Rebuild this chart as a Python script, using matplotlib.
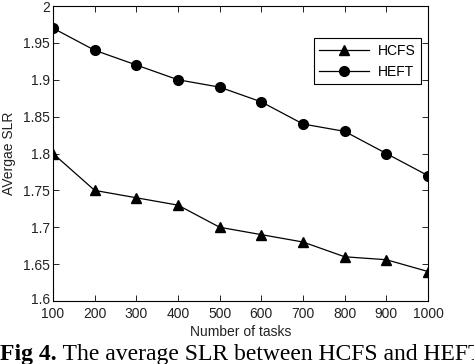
import numpy as np
import matplotlib.pyplot as plt
from matplotlib.transforms import ScaledTranslation

# datos
tareas = [100, 200, 300, 400, 500, 600, 700, 800, 900, 1000]
slr_hcfs = [1.80, 1.75, 1.74, 1.73, 1.70, 1.69, 1.68, 1.66, 1.656, 1.64]
slr_heft = [1.97, 1.94, 1.92, 1.90, 1.89, 1.87, 1.84, 1.83, 1.80, 1.77]
yticks = [1.6, 1.65, 1.7, 1.75, 1.8, 1.85, 1.9, 1.95, 2]
ytick_labels = ['1.6', '1.65', '1.7', '1.75', '1.8', '1.85', '1.9', '1.95', '2']

plt.rcParams['font.family'] = ['Liberation Sans', 'DejaVu Sans']

fig = plt.figure(figsize=(4.74, 3.64), dpi=100)
ax = fig.add_axes([0.1118, 0.173, 0.7912, 0.8105])

ax.plot(tareas, slr_hcfs, color='black', lw=0.9, marker='^', ms=7, label='HCFS')
ax.plot(tareas, slr_heft, color='black', lw=0.9, marker='o', ms=7, label='HEFT')

ax.set_xlim(100, 1000)
ax.set_ylim(1.6, 2)
ax.set_xticks(tareas)
ax.set_yticks(yticks)
ax.set_yticklabels(ytick_labels)
ax.tick_params(direction='in', top=True, right=True, labelsize=10, length=4, width=0.6,
               colors='black', labelcolor='#222222', pad=2)
ax.tick_params(axis='x', pad=4)
for s in ax.spines.values():
    s.set_linewidth(0.8)

# subir un poco la etiqueta 1.6 como en el original
lab = ax.get_yticklabels()[0]
lab.set_transform(lab.get_transform() + ScaledTranslation(0, 3 / 100, fig.dpi_scale_trans))

ax.set_xlabel('Number of tasks', fontsize=10, color='#222222', labelpad=3)
ax.set_ylabel('AVergae SLR', fontsize=10, color='#222222', labelpad=5)

leg = ax.legend(loc='upper right', bbox_to_anchor=(1.0, 0.915), fancybox=False,
                framealpha=1, edgecolor='black', fontsize=10, handlelength=3.6,
                borderpad=0.4, labelspacing=0.5, handletextpad=0.6)
leg.get_frame().set_linewidth(0.8)

# pie de figura (cortado a la derecha como en el original)
t_fig = fig.text(0.0, 0.012, 'Fig 4.', fontsize=17, fontweight='bold', family='Liberation Serif')
fig.add_artist(plt.Annotation(' The average SLR between HCFS and HEFT', xy=(1, 0),
                              xycoords=t_fig, va='bottom', fontsize=17,
                              family='Liberation Serif'))

fig.savefig('out.png', dpi=100)
